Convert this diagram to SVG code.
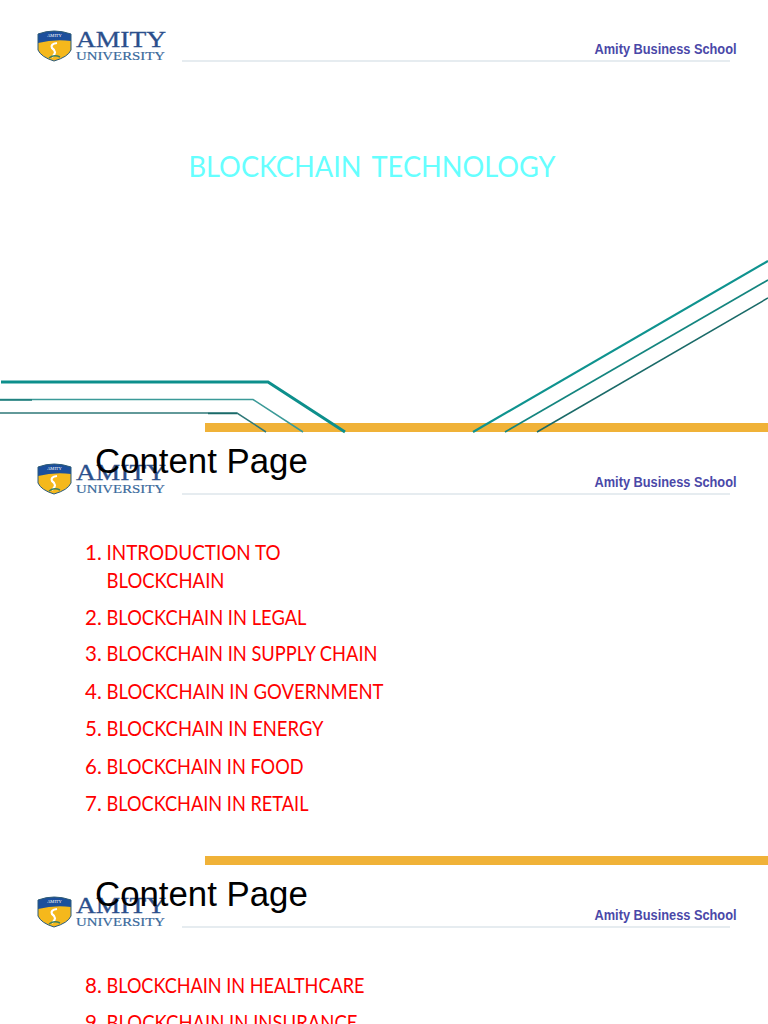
<svg xmlns="http://www.w3.org/2000/svg" width="768" height="1024" viewBox="0 0 768 1024">
<style>
.am{font-family:"Liberation Serif",serif;fill:#2b4f8c;stroke:#2b4f8c;stroke-width:.3}
.un{font-family:"Liberation Serif",serif;fill:#3a6a9c;stroke:#3a6a9c;stroke-width:.2}
.abs{font-family:"Liberation Sans",sans-serif;font-size:14px;font-weight:700;fill:#4a48a8}
.cp{font-family:"Liberation Sans",sans-serif;font-size:34.800px;fill:#000}
.li{font-family:Lato,"Open Sans",sans-serif;font-size:20.500px;fill:#f00}
.t{fill:none;stroke-linejoin:miter}
</style>
<defs>
<g id="hdr">
<path d="M38 34Q54 28 71 34L71 50Q68 57 54 61Q41 57 38 50Z" fill="#f5b81c"/>
<path d="M38 34Q54 28 71 34L71 41Q54 39 38 43Z" fill="#1c4f9c"/>
<path d="M38 34Q54 28 71 34L71 50Q68 57 54 61Q41 57 38 50Z" fill="none" stroke="#2a5a7a" stroke-width="1"/>
<text x="54.500" y="37" font-family="Liberation Serif,serif" font-size="4.500" fill="#fff" text-anchor="middle">AMITY</text>
<path d="M57 43Q50 44 52 48Q58 52 52 57" fill="none" stroke="#fff" stroke-width="2.200"/>
<path d="M49 58Q54 54 60 57" fill="none" stroke="#3f7f5a" stroke-width="1.500"/>
<text class="am" x="76" y="47" font-size="24" textLength="90" lengthAdjust="spacingAndGlyphs">AMITY</text>
<text class="un" x="76" y="59.500" font-size="13" textLength="89" lengthAdjust="spacingAndGlyphs">UNIVERSITY</text>
<rect x="182" y="60.500" width="548" height="1" fill="#cdd9e2"/>
<text class="abs" x="594.500" y="54" textLength="142" lengthAdjust="spacingAndGlyphs">Amity Business School</text>
</g>
</defs>
<rect width="768" height="1024" fill="#fff"/>
<use href="#hdr"/>
<text x="188.500" y="177" font-family="Lato,'Open Sans',sans-serif" font-size="28" word-spacing="4" fill="#66ffff" textLength="367" lengthAdjust="spacingAndGlyphs">BLOCKCHAIN TECHNOLOGY</text>
<rect x="205" y="423" width="563" height="9" fill="#f0b238"/>
<g class="t">
<path d="M1 382H268L345 432" stroke="#0d8f8c" stroke-width="3"/>
<path d="M0 399.500H253L303 432" stroke="#3b9a98" stroke-width="1.500"/>
<path d="M0 400H32" stroke="#1a7a78" stroke-width="1.500"/>
<path d="M0 413H237L266 432" stroke="#2f7878" stroke-width="1.500"/>
<path d="M208 413.500H237" stroke="#1a6a68" stroke-width="1.500"/>
<path d="M768 261L473 432" stroke="#0f938f" stroke-width="2.200"/>
<path d="M768 280L505 432" stroke="#14857f" stroke-width="1.700"/>
<path d="M768 298L537 432" stroke="#1a6a68" stroke-width="1.500"/>
</g>
<g id="page2">
<use href="#hdr" y="433"/>
<text class="cp" x="95" y="473">Content Page</text>
<text class="li" x="85" y="560">1.</text>
<text class="li" x="106.500" y="560" textLength="174" lengthAdjust="spacingAndGlyphs">INTRODUCTION TO</text>
<text class="li" x="106.500" y="588" textLength="118" lengthAdjust="spacingAndGlyphs">BLOCKCHAIN</text>
<text class="li" x="85" y="625">2.</text>
<text class="li" x="106.500" y="625" textLength="200" lengthAdjust="spacingAndGlyphs">BLOCKCHAIN IN LEGAL</text>
<text class="li" x="85" y="661">3.</text>
<text class="li" x="106.500" y="661" textLength="271" lengthAdjust="spacingAndGlyphs">BLOCKCHAIN IN SUPPLY CHAIN</text>
<text class="li" x="85" y="699">4.</text>
<text class="li" x="106.500" y="699" textLength="277" lengthAdjust="spacingAndGlyphs">BLOCKCHAIN IN GOVERNMENT</text>
<text class="li" x="85" y="736">5.</text>
<text class="li" x="106.500" y="736" textLength="217" lengthAdjust="spacingAndGlyphs">BLOCKCHAIN IN ENERGY</text>
<text class="li" x="85" y="774">6.</text>
<text class="li" x="106.500" y="774" textLength="197" lengthAdjust="spacingAndGlyphs">BLOCKCHAIN IN FOOD</text>
<text class="li" x="85" y="811">7.</text>
<text class="li" x="106.500" y="811" textLength="202" lengthAdjust="spacingAndGlyphs">BLOCKCHAIN IN RETAIL</text>
<rect x="205" y="856" width="563" height="9" fill="#f0b238"/>
</g>
<g id="page3">
<use href="#hdr" y="866"/>
<text class="cp" x="95" y="906">Content Page</text>
<text class="li" x="85" y="993">8.</text>
<text class="li" x="106.500" y="993" textLength="258" lengthAdjust="spacingAndGlyphs">BLOCKCHAIN IN HEALTHCARE</text>
<text class="li" x="85" y="1030">9.</text>
<text class="li" x="106.500" y="1030" textLength="251" lengthAdjust="spacingAndGlyphs">BLOCKCHAIN IN INSURANCE</text>
</g>
</svg>
